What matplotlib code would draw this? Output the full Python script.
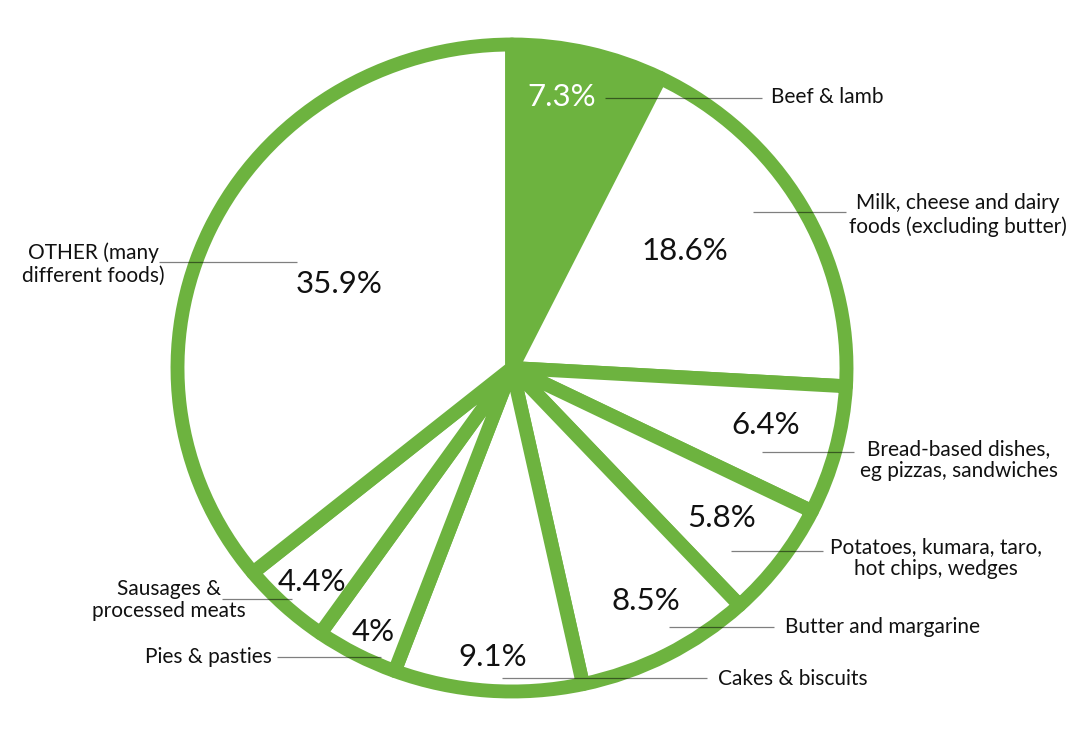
import matplotlib
matplotlib.use('Agg')
import matplotlib.pyplot as plt

categories = ["Beef & lamb",
              "Milk, cheese and dairy\nfoods (excluding butter)",
              "Bread-based dishes,\neg pizzas, sandwiches",
              "Potatoes, kumara, taro,\nhot chips, wedges",
              "Butter and margarine",
              "Cakes & biscuits",
              "Pies & pasties",
              "Sausages &\nprocessed meats",
              "OTHER (many\ndifferent foods)"]
values = [7.3, 18.6, 6.4, 5.8, 8.5, 9.1, 4.0, 4.4, 35.9]
pct_labels = ["7.3%", "18.6%", "6.4%", "5.8%", "8.5%", "9.1%", "4%", "4.4%", "35.9%"]

GREEN = '#6db33f'
W, H = 1086, 751
plt.rcParams['font.family'] = ['Lato', 'DejaVu Sans']

fig = plt.figure(figsize=(W / 100, H / 100), dpi=100)
ax = fig.add_axes([0, 0, 1, 1])
cx, cy = 512, 368
rx, ry = 334.5, 323.5
colors = [GREEN] + ['white'] * (len(values) - 1)
ax.pie(values, colors=colors, startangle=90, counterclock=False, radius=1,
       wedgeprops=dict(edgecolor=GREEN, linewidth=10, joinstyle='round'))
ax.set_aspect('auto')
ax.set_xlim(-cx / rx, (W - cx) / rx)
ax.set_ylim(-(H - cy) / ry, cy / ry)
ax.axis('off')

# overlay in pixel coordinates for labels
ov = fig.add_axes([0, 0, 1, 1])
ov.patch.set_visible(False)
ov.set_xlim(0, W)
ov.set_ylim(H, 0)
ov.axis('off')

# percentage label positions (pixels)
pct_pos = [(562, 97), (685, 251), (766, 425), (722, 518), (646, 601),
           (493, 657), (373, 632), (312, 582), (339, 284)]
for (x, y), t, i in zip(pct_pos, pct_labels, range(len(pct_labels))):
    ov.text(x, y, t, ha='center', va='center', fontsize=22.5,
            fontweight='normal', color='white' if i == 0 else '#111111')

# category label positions: (x, y, ha)
lab_pos = [(771, 97, 'left'), (958, 215, 'center'), (959, 460, 'center'),
           (936, 558, 'center'), (785, 627, 'left'), (718, 679, 'left'),
           (272, 657, 'right'), (169, 600, 'center'), (93, 264, 'center')]
for (x, y, ha), t in zip(lab_pos, categories):
    ov.text(x, y, t, ha=ha, va='center', fontsize=15, color='#111111',
            linespacing=1.15)

# leader lines (pixels)
leaders = [(605, 762, 98), (753, 846, 212), (762, 854, 452), (731, 823, 551),
           (669, 774, 627), (502, 707, 678), (277, 381, 657), (222, 292, 599),
           (159, 297, 262)]
for x0, x1, y in leaders:
    ov.plot([x0, x1], [y, y], color='black', alpha=0.5, lw=0.9,
            solid_capstyle='butt')

fig.savefig('out.png', dpi=100)
